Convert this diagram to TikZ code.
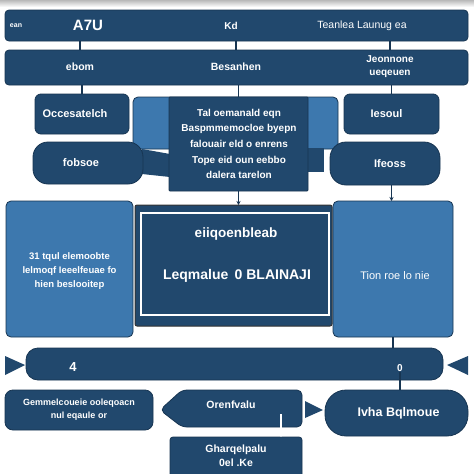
\documentclass[tikz,border=0pt]{standalone}
\usepackage{fontspec}
\setmainfont{Liberation Sans}
\usetikzlibrary{calc,arrows.meta}
\definecolor{navy}{HTML}{21486D}
\definecolor{navyedge}{HTML}{173552}
\definecolor{lblue}{HTML}{3D78AE}
\begin{document}
\begin{tikzpicture}[x=1pt,y=-1pt,
  dbox/.style={draw=navyedge, fill=navy, line width=0.8pt, rounded corners=4pt, inner sep=0pt, outer sep=0pt, anchor=north west},
  lbox/.style={draw=navyedge, fill=lblue, line width=0.8pt, rounded corners=5pt, inner sep=0pt, outer sep=0pt, anchor=north west},
  lbl/.style={text=white, font=\fontsize{11}{12}\selectfont\bfseries, align=center, inner sep=0pt},
  conn/.style={draw=navyedge, line width=1.1pt},
  arr/.style={conn, -{Stealth[length=4pt,width=4pt]}}]
\useasboundingbox (0,0) rectangle (474,474);
\fill[white] (0,0) rectangle (474,474);
\fill[top color=gray!55, bottom color=white] (0,0) rectangle (474,7);

% row 1
\node[dbox, minimum width=463pt, minimum height=31pt] (r1) at (5,10) {};
\node[lbl, font=\fontsize{7}{8}\selectfont\bfseries] (r1a) at (16,26) {ean};
\node[lbl, font=\fontsize{15}{16}\selectfont\bfseries] (r1b) at (88,25) {A7U};
\node[lbl, font=\fontsize{10}{11}\selectfont\bfseries] (r1c) at (231,26) {Kd};
\node[lbl, font=\fontsize{10.5}{12}\selectfont] (r1d) at (362,26) {Teanlea Launug ea};

% row 2
\node[dbox, minimum width=463pt, minimum height=35pt] (r2) at (5,50) {};
\node[lbl, font=\fontsize{10.5}{12}\selectfont\bfseries] (r2a) at (80,67) {ebom};
\node[lbl, font=\fontsize{10.5}{12}\selectfont\bfseries] (r2b) at (236,67) {Besanhen};
\node[lbl, font=\fontsize{10}{13}\selectfont\bfseries] (r2c) at (390,67) {Jeonnone\\ueqeuen};

\draw[conn] (r1.south -| r2a) -- (r2.north -| r2a);
\draw[conn] (r1.south -| r2b) -- (r2.north -| r2b);
\draw[conn] (r1.south -| r2c) -- (r2.north -| r2c);

% row 3
\node[lbox, minimum width=205pt, minimum height=52pt] (lmid) at (133,97) {};
\fill[navy] (142,149) -- (170,154) -- (170,177) -- (142,174) -- cycle;
\fill[navy] (306,148) rectangle (324,172);
\node[dbox, rounded corners=1pt, minimum width=139pt, minimum height=94pt] (ctr) at (169,97) {};
\node[lbl, font=\fontsize{10}{15.6}\selectfont\bfseries] (ctrt) at (239,144) {Tal oemanald eqn\\Baspmmemocloe byepn\\falouair eld o enrens\\Tope eid oun eebbo\\dalera tarelon};

\node[dbox, rounded corners=6pt, minimum width=94pt, minimum height=40pt] (occ) at (35,94) {};
\node[lbl] at ($(occ.center)+(-7,0)$) {Occesatelch};
\node[dbox, rounded corners=15pt, minimum width=110pt, minimum height=42pt] (fob) at (33,142) {};
\node[lbl] at ($(fob.center)+(-7,0)$) {fobsoe};

\node[dbox, rounded corners=6pt, minimum width=95pt, minimum height=40pt] (ies) at (344,94) {};
\node[lbl] at ($(ies.center)+(-5,0)$) {Iesoul};
\node[dbox, rounded corners=16pt, minimum width=110pt, minimum height=43pt] (ife) at (330,142) {};
\node[lbl] at ($(ife.center)+(5,0)$) {Ifeoss};

\draw[conn] (r2.south -| occ) -- (occ.north);
\draw[conn] (r2.south -| ctr) -- (ctr.north);
\draw[conn] (r2.south -| ies) -- (ies.north);

% row 4
\node[lbox, minimum width=127pt, minimum height=136pt] (lbig) at (6,201) {};
\node[lbl, font=\fontsize{9.5}{14}\selectfont\bfseries] at ($(lbig.center)+(0,2)$) {31 tqul elemoobte\\lelmoqf Ieeelfeuae fo\\hien beslooitep};
\node[draw=black!80, fill=navy, line width=1pt, rounded corners=2pt, inner sep=0pt, outer sep=0pt, anchor=north west, minimum width=197pt, minimum height=121pt] (mid) at (135,205) {};
\draw[white, line width=2pt] (141,213) rectangle (329,315);
\node[lbl, font=\fontsize{13.5}{15}\selectfont\bfseries] (midt) at (236,234) {eiiqoenbleab};
\node[lbl, font=\fontsize{14}{16}\selectfont\bfseries] (midl) at (237,276) {Leqmalue\, 0 BLAINAJI};
\node[lbox, minimum width=120pt, minimum height=136pt] (rbig) at (333,201) {};
\node[lbl, font=\fontsize{11}{12}\selectfont] at (395,276) {Tion roe lo nie};

\draw[arr] (ctr.south) -- (ctr.south |- mid.north);
\draw[arr] (ife.south -| ies) -- (rbig.north -| ies);

% row 5
\node[dbox, rounded corners=12pt, minimum width=417pt, minimum height=32pt] (cap) at (26,348) {};
\fill[navy] (5,356) -- (25,365) -- (5,375) -- cycle;
\fill[navy] (468,356) -- (447,365) -- (468,375) -- cycle;
\node[lbl, font=\fontsize{13}{14}\selectfont\bfseries] (four) at (73,367) {4};
\node[lbl, font=\fontsize{10}{11}\selectfont\bfseries] (zero) at (400,368) {0};
\draw[conn] (rbig.south) -- (rbig.south |- cap.north);

% row 6
\node[dbox, rounded corners=8pt, minimum width=148pt, minimum height=40pt] (gem) at (5,390) {};
\node[lbl, font=\fontsize{9}{13}\selectfont\bfseries] at (gem.center) {Gemmelcoueie ooleqoacn\\nul eqaule or};
\draw[draw=navyedge, fill=navy, line width=0.8pt, rounded corners=5pt] (160,410) -- (182,390) -- (302,390) -- (302,427) -- (182,427) -- cycle;
\node[lbl, font=\fontsize{10.5}{12}\selectfont\bfseries] (orv) at (231,405) {Orenfvalu};
\fill[navy] (305,401) -- (323,410) -- (305,418) -- cycle;
\node[dbox, rounded corners=21pt, minimum width=143pt, minimum height=46pt] (ivha) at (325,390) {};
\node[lbl, font=\fontsize{12.5}{14}\selectfont\bfseries] at ($(ivha.center)+(2,0)$) {Ivha Bqlmoue};
\draw[conn] (zero.south) -- (zero |- ivha.north);

% bottom
\node[dbox, rounded corners=3pt, minimum width=132pt, minimum height=42pt] (bot) at (170,437) {};
\node[lbl, font=\fontsize{10.5}{14}\selectfont\bfseries] at (236,456) {Gharqelpalu\\0el .Ke};
\coordinate (wa) at (281,414);
\draw[white, line width=1.5pt, -{Stealth[length=4pt,width=5pt]}] (wa) -- (wa |- bot.north);
\end{tikzpicture}
\end{document}
